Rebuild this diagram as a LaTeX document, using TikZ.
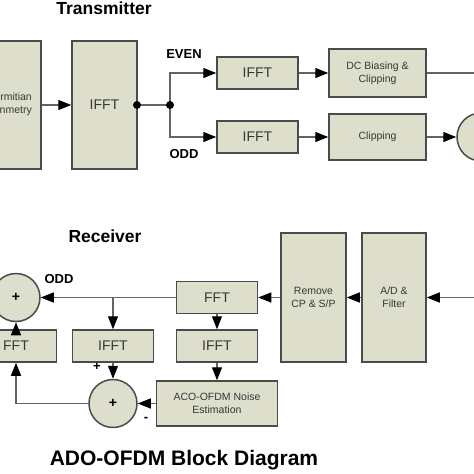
\documentclass[tikz,border=0pt]{standalone}
\usepackage{fontspec}
\setmainfont{Liberation Sans}
\usetikzlibrary{arrows.meta}
\definecolor{boxfill}{RGB}{221,222,203}
\definecolor{boxline}{RGB}{75,75,75}
\definecolor{wire}{RGB}{100,100,100}
\definecolor{txt}{RGB}{55,55,55}
\tikzset{
  blk/.style={draw=boxline, line width=1.5pt, fill=boxfill, inner sep=0pt, align=center,
              text=txt, font=\fontsize{10.5}{13}\selectfont},
  bigtxt/.style={font=\fontsize{14}{16}\selectfont},
  smbox/.style={blk, bigtxt, minimum width=81, minimum height=32},
  circ/.style={circle, draw=boxline, line width=1.5pt, fill=boxfill, minimum size=48, inner sep=0pt,
               font=\bfseries\fontsize{14}{16}\selectfont},
  wire/.style={draw=wire, line width=1.3pt},
  arr/.style={wire, -{Triangle[length=13pt,width=10pt,color=black]}},
  dotn/.style={circle, fill=black, minimum size=8, inner sep=0pt},
  ttl/.style={font=\bfseries\fontsize{17.5}{19}\selectfont},
  lbl/.style={font=\bfseries\fontsize{13}{15}\selectfont},
}
\begin{document}
\begin{tikzpicture}[x=1pt,y=-1pt]
\useasboundingbox (0,0) rectangle (474,474);
\clip (0,0) rectangle (474,474);
\fill[white] (0,0) rectangle (474,474);

% ---------------- Transmitter ----------------
\node[ttl] (ttx) at (104,8) {Transmitter};
\node[blk, minimum width=66, minimum height=128] (herm) at (8,105) {};
\node[text=txt, font=\fontsize{10.5}{13}\selectfont, align=right, anchor=east, inner sep=0pt] (hermtxt) at (32,104.5) {rmitian\\nmetry};
\node[blk, bigtxt, minimum width=65, minimum height=128] (ifft1) at (104.5,105) {IFFT};
\draw[arr] (herm) -- (ifft1);
\coordinate (d1c) at (137,105);
\coordinate (d2c) at (170,105);
\node[smbox] (ifftE) at (257.5,73) {IFFT};
\node[smbox] (ifftO) at (257.5,137) {IFFT};
\draw[wire] (d1c) -- (d2c);
\draw[arr] (d2c) |- (ifftE);
\draw[arr] (d2c) |- (ifftO);
\node[dotn] (d1) at (d1c) {};
\node[dotn] (d2) at (d2c) {};
\node[lbl] (even) at (184,54) {EVEN};
\node[lbl] (oddT) at (184,154) {ODD};
\node[blk, minimum width=97, minimum height=48] (dc) at (377.5,73) {DC Biasing \&\\Clipping};
\node[blk, minimum width=97, minimum height=46] (clip) at (377.5,137) {Clipping};
\draw[arr] (ifftE) -- (dc);
\draw[arr] (ifftO) -- (clip);
\coordinate (dcout) at (474,73);
\draw[wire] (dc) -- (dcout);
\node[circ] (sumT) at (481,137) {};
\draw[arr] (clip) -- (sumT);

% ---------------- Receiver ----------------
\node[ttl] (trx) at (105,236) {Receiver};
\node[circ] (sumL) at (16,297.5) {+};
\node[lbl] (oddR) at (59,279) {ODD};
\node[smbox] (fft) at (217,297.5) {FFT};
\node[blk, minimum width=65, minimum height=129] (rem) at (313.5,297.5) {Remove\\CP \& S/P};
\node[blk, minimum width=64, minimum height=129] (ad) at (394,297.5) {A/D \&\\Filter};
\coordinate (rxin) at (474,297.5);
\draw[arr] (rxin) -- (ad);
\draw[arr] (ad) -- (rem);
\draw[arr] (rem) -- (fft);
\draw[arr] (fft) -- (sumL);
\coordinate (tap) at (113,297.5);
\node[smbox] (ifftM) at (113,346) {IFFT};
\draw[arr] (tap) -- (ifftM);
\node[smbox] (fftL) at (16,346) {FFT};
\node[smbox] (ifftR) at (217,346) {IFFT};
\draw[arr] (fft) -- (ifftR);
\node[blk, minimum width=121, minimum height=45] (aco) at (217,403.5) {ACO-OFDM Noise\\Estimation};
\draw[arr] (ifftR) -- (aco);
\node[circ] (sumM) at (113,403.5) {+};
\draw[arr] (ifftM) -- (sumM);
\draw[arr] (aco) -- (sumM);
\draw[arr] (sumM) -| (fftL);
\draw[arr] (fftL) -- (sumL);
\node[lbl] (plus) at (97,367) {+};
\node[lbl] (minus) at (146,419) {-};

\node[font=\bfseries\fontsize{21}{24}\selectfont] (title) at (184,460) {ADO-OFDM Block Diagram};
\end{tikzpicture}
\end{document}
